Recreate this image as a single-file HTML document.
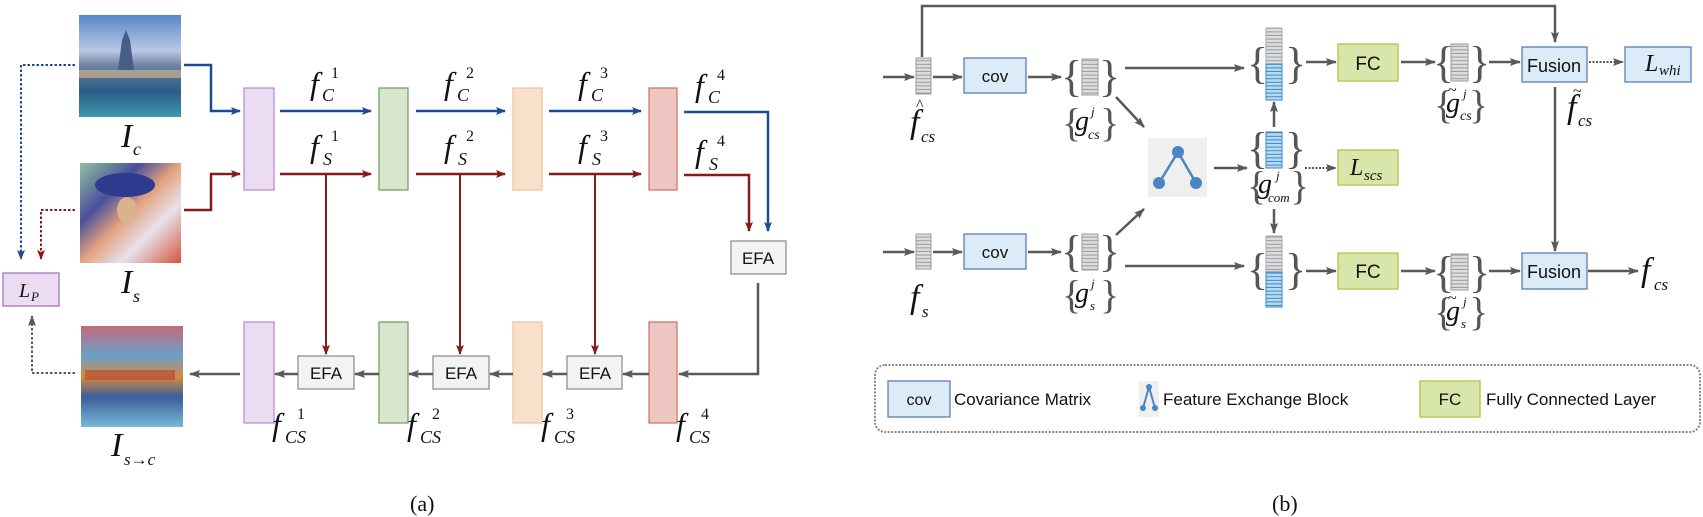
<!DOCTYPE html>
<html><head><meta charset="utf-8"><style>
html,body{margin:0;padding:0;background:#fff;}
svg{display:block;}
.m{font-family:"Liberation Serif",serif;font-style:italic;fill:#111;}
.u{font-family:"Liberation Serif",serif;fill:#111;}
.s{font-family:"Liberation Sans",sans-serif;fill:#111;}
</style></head><body>
<svg width="1703" height="517" viewBox="0 0 1703 517" xmlns="http://www.w3.org/2000/svg">
<defs>
<marker id="ab" markerWidth="10" markerHeight="8" refX="9" refY="4" orient="auto" markerUnits="userSpaceOnUse"><path d="M0,0 L10,4 L0,8 L2,4z" fill="#1f4a93"/></marker>
<marker id="ar" markerWidth="10" markerHeight="8" refX="9" refY="4" orient="auto" markerUnits="userSpaceOnUse"><path d="M0,0 L10,4 L0,8 L2,4z" fill="#861b1b"/></marker>
<marker id="ag" markerWidth="11" markerHeight="8" refX="10" refY="4" orient="auto" markerUnits="userSpaceOnUse"><path d="M0,0 L11,4 L0,8 L2,4z" fill="#595959"/></marker>
<pattern id="pg" width="4" height="3.6" patternUnits="userSpaceOnUse"><rect width="4" height="3.6" fill="#dedede"/><rect y="2.6" width="4" height="1" fill="#9a9a9a"/></pattern>
<pattern id="pb" width="4" height="3.6" patternUnits="userSpaceOnUse"><rect width="4" height="3.6" fill="#b7dbf3"/><rect y="2.6" width="4" height="1" fill="#3f86c6"/></pattern>
<linearGradient id="ic" x1="0" y1="0" x2="0" y2="1"><stop offset="0" stop-color="#5a86c9"/><stop offset=".35" stop-color="#b9c9e4"/><stop offset=".5" stop-color="#6f7fa0"/><stop offset=".75" stop-color="#2a5c86"/><stop offset="1" stop-color="#3c9bb0"/></linearGradient>
<linearGradient id="is" x1="0" y1="0" x2="1" y2="1"><stop offset="0" stop-color="#8fc2a0"/><stop offset=".3" stop-color="#4a4f9a"/><stop offset=".5" stop-color="#e3a37f"/><stop offset=".7" stop-color="#e7e2ea"/><stop offset="1" stop-color="#d3553c"/></linearGradient>
<linearGradient id="io" x1="0" y1="0" x2="0" y2="1"><stop offset="0" stop-color="#c46a7d"/><stop offset=".3" stop-color="#6aa0c8"/><stop offset=".5" stop-color="#d98a3e"/><stop offset=".7" stop-color="#3a5e9a"/><stop offset="1" stop-color="#7ab8d8"/></linearGradient>
</defs>

<!-- ===== Panel (a) ===== -->
<rect x="79" y="15" width="102" height="102" fill="url(#ic)"/>
<path d="M118,70 L122,40 L126,30 L130,40 L134,70z" fill="#4a5d8a"/>
<rect x="79" y="70" width="102" height="8" fill="#c9b08a" opacity=".7"/>
<rect x="80" y="163" width="101" height="100" fill="url(#is)"/>
<ellipse cx="125" cy="185" rx="30" ry="12" fill="#2d3b8f"/>
<ellipse cx="127" cy="210" rx="10" ry="13" fill="#d9b38e"/>
<rect x="81" y="326" width="102" height="101" fill="url(#io)"/>
<rect x="85" y="370" width="90" height="10" fill="#b8422e" opacity=".6"/>

<text class="m" x="121" y="147" font-size="34">I</text><text class="m" x="133" y="155" font-size="18">c</text>
<text class="m" x="121" y="293" font-size="34">I</text><text class="m" x="133" y="302" font-size="18">s</text>
<text class="m" x="111" y="456" font-size="34">I</text><text class="m" x="124" y="465" font-size="17">s→c</text>

<!-- Lp -->
<rect x="3" y="273" width="56" height="33" fill="#ecdcf1" stroke="#a676bd" stroke-width="1.3"/>
<text class="m" x="19" y="297" font-size="20">L</text><text class="m" x="31" y="301" font-size="13">P</text>
<path d="M75,65 H21 V259" fill="none" stroke="#1f4a93" stroke-width="2" stroke-dasharray="2.5,2" marker-end="url(#ab)"/>
<path d="M75,210 H41 V259" fill="none" stroke="#861b1b" stroke-width="2" stroke-dasharray="2.5,2" marker-end="url(#ar)"/>
<path d="M75,373 H32 V316" fill="none" stroke="#595959" stroke-width="2" stroke-dasharray="2.5,2" marker-end="url(#ag)"/>

<!-- input arrows -->
<path d="M184,65 H211 V111 H240" fill="none" stroke="#1f4a93" stroke-width="2.5" marker-end="url(#ab)"/>
<path d="M184,210 H211 V174 H240" fill="none" stroke="#861b1b" stroke-width="2.5" marker-end="url(#ar)"/>

<!-- encoder blocks -->
<rect x="244" y="88" width="30" height="102" fill="#ecdcf1" stroke="#b887cc" stroke-width="1.2"/>
<rect x="379" y="88" width="29" height="102" fill="#d6e7cd" stroke="#6d9a5e" stroke-width="1.2"/>
<rect x="513" y="88" width="29" height="102" fill="#f8e0ca" stroke="#efc29b" stroke-width="1.2"/>
<rect x="649" y="88" width="28" height="102" fill="#edc6c2" stroke="#d46a6a" stroke-width="1.2"/>
<!-- decoder blocks -->
<rect x="244" y="322" width="30" height="101" fill="#ecdcf1" stroke="#b887cc" stroke-width="1.2"/>
<rect x="379" y="322" width="29" height="101" fill="#d6e7cd" stroke="#6d9a5e" stroke-width="1.2"/>
<rect x="513" y="322" width="29" height="101" fill="#f8e0ca" stroke="#efc29b" stroke-width="1.2"/>
<rect x="649" y="322" width="28" height="101" fill="#edc6c2" stroke="#d46a6a" stroke-width="1.2"/>

<!-- blue & red horizontals -->
<g stroke-width="2.5" fill="none">
<path d="M280,111 H371" stroke="#1f4a93" marker-end="url(#ab)"/>
<path d="M416,111 H505" stroke="#1f4a93" marker-end="url(#ab)"/>
<path d="M549,111 H641" stroke="#1f4a93" marker-end="url(#ab)"/>
<path d="M684,112 H768 V231" stroke="#1f4a93" marker-end="url(#ab)"/>
<path d="M280,174 H371" stroke="#861b1b" marker-end="url(#ar)"/>
<path d="M416,174 H505" stroke="#861b1b" marker-end="url(#ar)"/>
<path d="M549,174 H641" stroke="#861b1b" marker-end="url(#ar)"/>
<path d="M684,175 H749 V231" stroke="#861b1b" marker-end="url(#ar)"/>
<path d="M326,174 V354" stroke="#861b1b" stroke-width="2" marker-end="url(#ar)"/>
<path d="M460,174 V354" stroke="#861b1b" stroke-width="2" marker-end="url(#ar)"/>
<path d="M595,174 V354" stroke="#861b1b" stroke-width="2" marker-end="url(#ar)"/>
</g>

<!-- EFA boxes -->
<g font-size="17" text-anchor="middle">
<rect x="731" y="241" width="55" height="33" fill="#f3f3f3" stroke="#888" stroke-width="1.2"/>
<text class="s" x="758" y="264">EFA</text>
<rect x="298" y="356" width="56" height="33" fill="#f3f3f3" stroke="#888" stroke-width="1.2"/>
<text class="s" x="326" y="379">EFA</text>
<rect x="433" y="356" width="56" height="33" fill="#f3f3f3" stroke="#888" stroke-width="1.2"/>
<text class="s" x="461" y="379">EFA</text>
<rect x="567" y="356" width="55" height="33" fill="#f3f3f3" stroke="#888" stroke-width="1.2"/>
<text class="s" x="595" y="379">EFA</text>
</g>

<!-- gray bottom -->
<g stroke="#595959" stroke-width="2.5" fill="none">
<path d="M758,283 V374 H679" marker-end="url(#ag)"/>
<path d="M649,374 H623" marker-end="url(#ag)"/>
<path d="M567,374 H543" marker-end="url(#ag)"/>
<path d="M513,374 H490" marker-end="url(#ag)"/>
<path d="M433,374 H409" marker-end="url(#ag)"/>
<path d="M379,374 H355" marker-end="url(#ag)"/>
<path d="M298,374 H275" marker-end="url(#ag)"/>
<path d="M240,374 H190" marker-end="url(#ag)"/>
</g>

<!-- f labels -->
<g>
<text class="m" x="310" y="94" font-size="32">f</text><text class="u" x="331" y="78" font-size="16">1</text><text class="m" x="322" y="101" font-size="18">C</text>
<text class="m" x="444" y="94" font-size="32">f</text><text class="u" x="466" y="78" font-size="16">2</text><text class="m" x="457" y="101" font-size="18">C</text>
<text class="m" x="578" y="94" font-size="32">f</text><text class="u" x="600" y="78" font-size="16">3</text><text class="m" x="591" y="101" font-size="18">C</text>
<text class="m" x="695" y="96" font-size="32">f</text><text class="u" x="717" y="80" font-size="16">4</text><text class="m" x="708" y="103" font-size="18">C</text>

<text class="m" x="310" y="157" font-size="32">f</text><text class="u" x="331" y="141" font-size="16">1</text><text class="m" x="323" y="165" font-size="18">S</text>
<text class="m" x="444" y="157" font-size="32">f</text><text class="u" x="466" y="141" font-size="16">2</text><text class="m" x="458" y="165" font-size="18">S</text>
<text class="m" x="578" y="157" font-size="32">f</text><text class="u" x="600" y="141" font-size="16">3</text><text class="m" x="592" y="165" font-size="18">S</text>
<text class="m" x="695" y="162" font-size="32">f</text><text class="u" x="717" y="146" font-size="16">4</text><text class="m" x="709" y="170" font-size="18">S</text>

<text class="m" x="272" y="435" font-size="32">f</text><text class="u" x="297" y="419" font-size="16">1</text><text class="m" x="285" y="443" font-size="18">CS</text>
<text class="m" x="407" y="435" font-size="32">f</text><text class="u" x="432" y="419" font-size="16">2</text><text class="m" x="420" y="443" font-size="18">CS</text>
<text class="m" x="541" y="435" font-size="32">f</text><text class="u" x="566" y="419" font-size="16">3</text><text class="m" x="554" y="443" font-size="18">CS</text>
<text class="m" x="676" y="435" font-size="32">f</text><text class="u" x="701" y="419" font-size="16">4</text><text class="m" x="689" y="443" font-size="18">CS</text>
</g>
<text class="u" x="410" y="511" font-size="22">(a)</text>

<!-- ===== Panel (b) ===== -->
<g stroke="#595959" stroke-width="2.5" fill="none">
<path d="M922,57 V6 H1555 V42" marker-end="url(#ag)"/>
<path d="M883,77 H914" marker-end="url(#ag)"/>
<path d="M933,77 H962" marker-end="url(#ag)"/>
<path d="M1028,77 H1061" marker-end="url(#ag)"/>
<path d="M1125,68 H1244" marker-end="url(#ag)"/>
<path d="M1306,62 H1336" marker-end="url(#ag)"/>
<path d="M1401,62 H1435" marker-end="url(#ag)"/>
<path d="M1489,62 H1520" marker-end="url(#ag)"/>
<path d="M1589,62 H1623" stroke-dasharray="2,1.5" stroke-width="2" marker-end="url(#ag)"/>
<path d="M1555,87 V251" marker-end="url(#ag)"/>
<path d="M1116,97 L1144,127" marker-end="url(#ag)"/>
<path d="M1116,235 L1144,209" marker-end="url(#ag)"/>
<path d="M1214,168 H1247" marker-end="url(#ag)"/>
<path d="M1274,127 V102" marker-end="url(#ag)"/>
<path d="M1274,209 V233" marker-end="url(#ag)"/>
<path d="M1305,168 H1336" stroke-dasharray="2,1.5" stroke-width="2" marker-end="url(#ag)"/>
<path d="M883,252 H914" marker-end="url(#ag)"/>
<path d="M933,252 H962" marker-end="url(#ag)"/>
<path d="M1028,252 H1061" marker-end="url(#ag)"/>
<path d="M1125,266 H1244" marker-end="url(#ag)"/>
<path d="M1306,271 H1336" marker-end="url(#ag)"/>
<path d="M1401,271 H1435" marker-end="url(#ag)"/>
<path d="M1489,271 H1520" marker-end="url(#ag)"/>
<path d="M1588,271 H1638" marker-end="url(#ag)"/>
</g>

<!-- vectors -->
<g stroke-width="1">
<rect x="916" y="58" width="15" height="36" fill="url(#pg)" stroke="#999"/>
<rect x="916" y="234" width="15" height="35" fill="url(#pg)" stroke="#999"/>
<rect x="1082" y="59" width="16" height="36" fill="url(#pg)" stroke="#999"/>
<rect x="1082" y="234" width="16" height="36" fill="url(#pg)" stroke="#999"/>
<rect x="1266" y="28" width="16" height="36" fill="url(#pg)" stroke="#aaa"/>
<rect x="1266" y="64" width="16" height="36" fill="url(#pb)" stroke="#3f86c6"/>
<rect x="1266" y="132" width="16" height="36" fill="url(#pb)" stroke="#3f86c6"/>
<rect x="1266" y="236" width="16" height="36" fill="url(#pg)" stroke="#aaa"/>
<rect x="1266" y="272" width="16" height="35" fill="url(#pb)" stroke="#3f86c6"/>
<rect x="1451" y="44" width="17" height="37" fill="url(#pg)" stroke="#999"/>
<rect x="1451" y="254" width="17" height="36" fill="url(#pg)" stroke="#999"/>
</g>

<!-- braces -->
<g font-family="Liberation Serif" font-size="44" fill="#555">
<text x="1061" y="91">{</text><text x="1099" y="91">}</text>
<text x="1061" y="266">{</text><text x="1099" y="266">}</text>
<text x="1247" y="78">{</text><text x="1285" y="78">}</text>
<text x="1247" y="163">{</text><text x="1285" y="163">}</text>
<text x="1247" y="284">{</text><text x="1285" y="284">}</text>
<text x="1433" y="77">{</text><text x="1469" y="77">}</text>
<text x="1433" y="287">{</text><text x="1469" y="287">}</text>
</g>
<g font-family="Liberation Serif" font-size="40" fill="#555">
<text x="1062" y="136">{</text><text x="1100" y="136">}</text>
<text x="1062" y="308">{</text><text x="1100" y="308">}</text>
<text x="1247" y="199">{</text><text x="1290" y="199">}</text>
<text x="1434" y="118">{</text><text x="1469" y="118">}</text>
<text x="1434" y="325">{</text><text x="1469" y="325">}</text>
</g>
<!-- g labels -->
<text class="m" x="1075" y="130" font-size="28">g</text><text class="m" x="1091" y="116" font-size="13">j</text><text class="m" x="1088" y="139" font-size="14">cs</text>
<text class="m" x="1075" y="302" font-size="28">g</text><text class="m" x="1091" y="288" font-size="13">j</text><text class="m" x="1090" y="310" font-size="13">s</text>
<text class="m" x="1258" y="193" font-size="28">g</text><text class="m" x="1276" y="180" font-size="13">j</text><text class="m" x="1268" y="202" font-size="13">com</text>
<text class="m" x="1446" y="112" font-size="28">g</text><text class="u" x="1448" y="95" font-size="16">~</text><text class="m" x="1463" y="98" font-size="13">j</text><text class="m" x="1460" y="120" font-size="14">cs</text>
<text class="m" x="1446" y="320" font-size="28">g</text><text class="u" x="1448" y="303" font-size="16">~</text><text class="m" x="1463" y="306" font-size="13">j</text><text class="m" x="1461" y="328" font-size="13">s</text>

<!-- f labels right -->
<text class="m" x="910" y="133" font-size="34">f</text><text class="u" x="916" y="110" font-size="16">^</text><text class="m" x="921" y="142" font-size="17">cs</text>
<text class="m" x="910" y="308" font-size="34">f</text><text class="m" x="922" y="317" font-size="17">s</text>
<text class="m" x="1567" y="118" font-size="34">f</text><text class="u" x="1573" y="96" font-size="16">~</text><text class="m" x="1578" y="126" font-size="17">cs</text>
<text class="m" x="1641" y="281" font-size="34">f</text><text class="m" x="1654" y="290" font-size="17">cs</text>

<!-- boxes -->
<g stroke-width="1.3">
<rect x="964" y="58" width="62" height="35" fill="#dcebf8" stroke="#5a7db5"/>
<rect x="964" y="234" width="62" height="35" fill="#dcebf8" stroke="#5a7db5"/>
<rect x="1338" y="44" width="60" height="37" fill="#d8e6aa" stroke="#abc64a"/>
<rect x="1338" y="253" width="60" height="36" fill="#d8e6aa" stroke="#abc64a"/>
<rect x="1338" y="150" width="60" height="35" fill="#d8e6aa" stroke="#abc64a"/>
<rect x="1522" y="47" width="65" height="35" fill="#dcebf8" stroke="#5a7db5"/>
<rect x="1522" y="253" width="65" height="36" fill="#dcebf8" stroke="#5a7db5"/>
<rect x="1625" y="47" width="66" height="35" fill="#dcebf8" stroke="#5a7db5"/>
</g>
<g text-anchor="middle">
<text class="s" x="995" y="82" font-size="17">cov</text>
<text class="s" x="995" y="258" font-size="17">cov</text>
<text class="s" x="1368" y="70" font-size="19">FC</text>
<text class="s" x="1368" y="278" font-size="19">FC</text>
<text class="s" x="1554" y="72" font-size="18">Fusion</text>
<text class="s" x="1554" y="278" font-size="18">Fusion</text>
</g>
<text class="m" x="1645" y="71" font-size="24">L</text><text class="m" x="1659" y="75" font-size="15">whi</text>
<text class="m" x="1350" y="175" font-size="24">L</text><text class="m" x="1364" y="180" font-size="15">scs</text>

<!-- feature exchange block -->
<rect x="1148" y="138" width="59" height="59" fill="#efefef"/>
<path d="M1159,183 L1178,152 L1196,183" fill="none" stroke="#4a86c6" stroke-width="2.5"/>
<circle cx="1178" cy="152" r="6" fill="#4a86c6"/><circle cx="1159" cy="183" r="6" fill="#4a86c6"/><circle cx="1196" cy="183" r="6" fill="#4a86c6"/>

<!-- legend -->
<rect x="875" y="365" width="825" height="67" rx="10" fill="none" stroke="#888" stroke-width="2" stroke-dasharray="2,1.5"/>
<rect x="888" y="381" width="62" height="36" fill="#dcebf8" stroke="#5a7db5" stroke-width="1.3"/>
<text class="s" x="919" y="405" font-size="16" text-anchor="middle">cov</text>
<text class="s" x="954" y="405" font-size="17">Covariance Matrix</text>
<rect x="1139" y="381" width="20" height="36" fill="#efefef"/>
<path d="M1143,408 L1149,387 L1155,408" fill="none" stroke="#4a86c6" stroke-width="2"/>
<circle cx="1149" cy="387" r="3" fill="#4a86c6"/><circle cx="1143" cy="408" r="3" fill="#4a86c6"/><circle cx="1155" cy="408" r="3" fill="#4a86c6"/>
<text class="s" x="1163" y="405" font-size="17">Feature Exchange Block</text>
<rect x="1420" y="381" width="60" height="36" fill="#d8e6aa" stroke="#abc64a" stroke-width="1.3"/>
<text class="s" x="1450" y="405" font-size="17" text-anchor="middle">FC</text>
<text class="s" x="1486" y="405" font-size="17">Fully Connected Layer</text>

<text class="u" x="1272" y="511" font-size="22">(b)</text>
</svg>
</body></html>
